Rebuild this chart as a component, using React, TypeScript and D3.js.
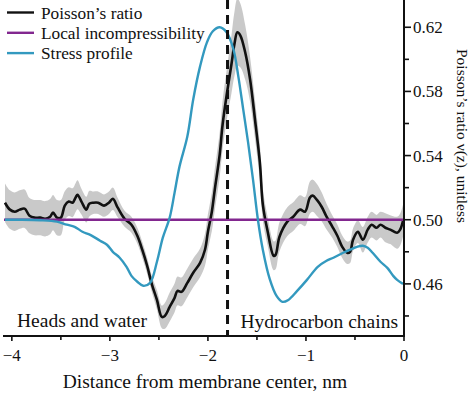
import React from "react";
import * as d3 from "d3";

// distance from membrane center (nm) for the Poisson's ratio trace
const poissonZ = [
  -4.07, -4.02, -3.97, -3.92, -3.87, -3.82, -3.77, -3.71, -3.66, -3.61, -3.58, -3.54, -3.5,
  -3.46, -3.42, -3.38, -3.35, -3.33, -3.29, -3.24, -3.21, -3.17, -3.12, -3.06, -3.01, -2.97,
  -2.92, -2.85, -2.78, -2.72, -2.67, -2.62, -2.57, -2.52, -2.47, -2.44, -2.39, -2.34, -2.31,
  -2.27, -2.21, -2.15, -2.08, -2.03, -2.0, -1.96, -1.93, -1.88, -1.85, -1.8, -1.76, -1.73,
  -1.7, -1.67, -1.62, -1.57, -1.52, -1.47, -1.44, -1.39, -1.33, -1.31, -1.27, -1.19, -1.13,
  -1.06, -1.01, -0.96, -0.93, -0.89, -0.84, -0.79, -0.73, -0.68, -0.63, -0.58, -0.55, -0.52,
  -0.47, -0.42, -0.37, -0.33, -0.28, -0.24, -0.19, -0.14, -0.07, -0.04, -0.01,
];
const poissonMean = [
  0.5106, 0.5063, 0.505, 0.5063, 0.5069, 0.5025, 0.5013, 0.5013, 0.5006, 0.5019, 0.5044, 0.5013,
  0.5013, 0.5088, 0.5113, 0.5106, 0.5138, 0.5156, 0.5113, 0.5063, 0.51, 0.5106, 0.5106, 0.5088,
  0.5106, 0.5131, 0.5075, 0.5006, 0.4969, 0.49, 0.4813, 0.4713, 0.4594, 0.45, 0.4394, 0.44,
  0.4456, 0.4513, 0.4556, 0.455, 0.4606, 0.4669, 0.4731, 0.4813, 0.4925, 0.505, 0.5188, 0.5406,
  0.5594, 0.5813, 0.5969, 0.6094, 0.6169, 0.615, 0.6044, 0.5875, 0.5625, 0.5356, 0.5094, 0.4925,
  0.4775, 0.4781, 0.4894, 0.4988, 0.5019, 0.5063, 0.505, 0.5138, 0.515, 0.5125, 0.5081, 0.5019,
  0.4956, 0.49, 0.4831, 0.4794, 0.48, 0.4875, 0.4925, 0.4875, 0.4938, 0.4969, 0.495, 0.4969,
  0.495, 0.4938, 0.4919, 0.4938, 0.4994,
];
const poissonSd = [
  0.012, 0.012, 0.012, 0.012, 0.012, 0.011, 0.011, 0.011, 0.011, 0.011, 0.011, 0.011, 0.011,
  0.009, 0.009, 0.009, 0.009, 0.009, 0.008, 0.008, 0.008, 0.007, 0.007, 0.007, 0.007, 0.007,
  0.006, 0.005, 0.005, 0.005, 0.005, 0.005, 0.005, 0.006, 0.007, 0.008, 0.009, 0.009, 0.009,
  0.009, 0.009, 0.009, 0.009, 0.01, 0.011, 0.012, 0.013, 0.014, 0.015, 0.016, 0.018, 0.02,
  0.021, 0.02, 0.017, 0.014, 0.012, 0.011, 0.01, 0.009, 0.009, 0.009, 0.009, 0.009, 0.009,
  0.009, 0.009, 0.01, 0.01, 0.01, 0.009, 0.008, 0.007, 0.007, 0.007, 0.007, 0.007, 0.007,
  0.007, 0.008, 0.008, 0.008, 0.008, 0.008, 0.009, 0.009, 0.01, 0.01, 0.01,
];

// stress profile, scaled onto the Poisson's ratio axis
const stressZ = [
  -4.07, -3.92, -3.71, -3.54, -3.44, -3.36, -3.28, -3.2, -3.1, -3.03, -2.97, -2.9, -2.83, -2.78,
  -2.72, -2.66, -2.59, -2.52, -2.46, -2.39, -2.34, -2.29, -2.21, -2.15, -2.08, -2.01, -1.95,
  -1.88, -1.81, -1.74, -1.69, -1.64, -1.59, -1.54, -1.49, -1.44, -1.37, -1.3, -1.24, -1.18,
  -1.09, -0.99, -0.88, -0.79, -0.72, -0.62, -0.55, -0.48, -0.42, -0.37, -0.32, -0.24, -0.17,
  -0.11, -0.07, -0.01,
];
const stressVal = [
  0.5, 0.5, 0.4997, 0.4988, 0.4969, 0.4956, 0.4925, 0.4906, 0.4869, 0.4844, 0.48, 0.4763,
  0.4706, 0.465, 0.4613, 0.4588, 0.4606, 0.4738, 0.4888, 0.5013, 0.5169, 0.5331, 0.5519, 0.575,
  0.5956, 0.6106, 0.6175, 0.62, 0.6169, 0.6063, 0.5894, 0.5688, 0.5481, 0.525, 0.5, 0.4813,
  0.4631, 0.4525, 0.4488, 0.45, 0.4556, 0.4625, 0.4706, 0.4744, 0.4763, 0.4794, 0.4813, 0.4831,
  0.4838, 0.4825, 0.4794, 0.4738, 0.47, 0.465, 0.4625, 0.46,
];

const incompressible = 0.5;
const interfaceZ = -1.8;

const xMajor = [-4, -3, -2, -1, 0];
const xMinor = [-3.5, -2.5, -1.5, -0.5];
const yMajor = [0.46, 0.5, 0.54, 0.58, 0.62];
const yMinor = [0.44, 0.48, 0.52, 0.56, 0.6];

const legendItems = ["Poisson\u2019s ratio", "Local incompressibility", "Stress profile"];

const BLACK = "#111111";
const PURPLE = "#82278f";
const BLUE = "#3399bf";
const BAND = "#c9c9c9";
const FONT = "'Liberation Serif', 'Times New Roman', serif";

function App() {
  const W = 474;
  const H = 398;
  const left = 4;
  const right = 404;
  const bottom = 336;

  const x = d3.scaleLinear().domain([-4.08, 0]).range([left, right]);
  const y = d3.scaleLinear().domain([0.4275, 0.637]).range([bottom, 0]);

  const idx = poissonZ.map((_, i) => i);
  const band = d3
    .area<number>()
    .x((i) => x(poissonZ[i]))
    .y0((i) => y(poissonMean[i] - poissonSd[i]))
    .y1((i) => y(poissonMean[i] + poissonSd[i]))
    .curve(d3.curveCatmullRom);
  const meanLine = d3
    .line<number>()
    .x((i) => x(poissonZ[i]))
    .y((i) => y(poissonMean[i]))
    .curve(d3.curveCatmullRom);
  const stressLine = d3
    .line<number>()
    .x((i) => x(stressZ[i]))
    .y((i) => y(stressVal[i]))
    .curve(d3.curveCatmullRom);

  const fmtX = (v: number) => (v < 0 ? "\u2212" + Math.abs(v) : String(v));
  const legendColors = [BLACK, PURPLE, BLUE];

  return (
    <svg
      width={W}
      height={H}
      style={{ position: "absolute", left: 0, top: 0, background: "#fff" }}
      fontFamily={FONT}
    >
      <defs>
        <clipPath id="plot">
          <rect x={left} y={0} width={right - left} height={bottom} />
        </clipPath>
      </defs>
      <g clipPath="url(#plot)">
        <path d={band(idx) || ""} fill={BAND} />
        <path d={meanLine(idx) || ""} fill="none" stroke={BLACK} strokeWidth={2.6} />
        <line
          x1={left}
          x2={right}
          y1={y(incompressible)}
          y2={y(incompressible)}
          stroke={PURPLE}
          strokeWidth={2.6}
        />
        <path
          d={stressLine(stressZ.map((_, i) => i)) || ""}
          fill="none"
          stroke={BLUE}
          strokeWidth={2.4}
        />
        <line
          x1={x(interfaceZ)}
          x2={x(interfaceZ)}
          y1={0}
          y2={bottom}
          stroke={BLACK}
          strokeWidth={3}
          strokeDasharray="9,6"
        />
      </g>

      {/* bottom axis */}
      <line x1={left - 1} x2={right} y1={bottom} y2={bottom} stroke={BLACK} strokeWidth={2} />
      {xMajor.map((t) => (
        <g key={"xM" + t}>
          <line x1={x(t)} x2={x(t)} y1={bottom} y2={bottom + 5} stroke={BLACK} strokeWidth={1.6} />
          <text x={x(t)} y={361} textAnchor="middle" fontSize={17} fill={BLACK}>
            {fmtX(t)}
          </text>
        </g>
      ))}
      {xMinor.map((t) => (
        <line key={"xm" + t} x1={x(t)} x2={x(t)} y1={bottom} y2={bottom + 4} stroke={BLACK} strokeWidth={1.6} />
      ))}
      <text x={205} y={388} textAnchor="middle" fontSize={19.5} fill={BLACK}>
        Distance from membrane center, nm
      </text>

      {/* right axis */}
      <line x1={right} x2={right} y1={0} y2={bottom + 1} stroke={BLACK} strokeWidth={2} />
      {yMajor.map((t) => (
        <g key={"yM" + t}>
          <line x1={right} x2={right + 7} y1={y(t)} y2={y(t)} stroke={BLACK} strokeWidth={1.6} />
          <text x={413} y={y(t) + 6} fontSize={17} fill={BLACK}>
            {t.toFixed(2)}
          </text>
        </g>
      ))}
      {yMinor.map((t) => (
        <line key={"ym" + t} x1={right} x2={right + 5} y1={y(t)} y2={y(t)} stroke={BLACK} strokeWidth={1.6} />
      ))}
      <text
        transform={`translate(457,136) rotate(90)`}
        textAnchor="middle"
        fontSize={15.5}
        fill={BLACK}
      >
        Poisson’s ratio ν(z), unitless
      </text>

      {/* region labels */}
      <text x={17} y={327} fontSize={19.5} fill={BLACK}>
        Heads and water
      </text>
      <text x={398} y={328} textAnchor="end" fontSize={19.5} fill={BLACK}>
        Hydrocarbon chains
      </text>

      {/* legend */}
      {legendItems.map((label, i) => (
        <g key={label} transform={`translate(0,${12.5 + i * 20.3})`}>
          <line x1={7} x2={34} y1={0} y2={0} stroke={legendColors[i]} strokeWidth={2.4} />
          <text x={41} y={6} fontSize={17.3} fill={BLACK}>
            {label}
          </text>
        </g>
      ))}
    </svg>
  );
}

export default App;
